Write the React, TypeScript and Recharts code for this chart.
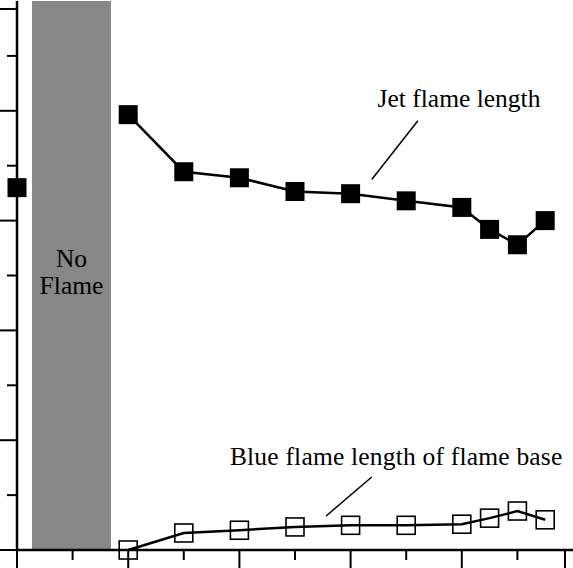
import React from 'react';
import {
  ComposedChart,
  Line,
  XAxis,
  YAxis,
  ReferenceArea,
  ReferenceLine,
  ReferenceDot,
} from 'recharts';

const SERIF = '"Liberation Serif", "Times New Roman", Times, serif';

// x positions of the measurements (axis units, labels are cropped off)
const JET_X = [2, 3, 4, 5, 6, 7, 8, 8.5, 9, 9.5];
const JET_Y = [7.93, 6.89, 6.78, 6.53, 6.49, 6.36, 6.24, 5.84, 5.56, 6.0];
const BLUE_X = [2, 3, 4, 5, 6, 7, 8, 8.5, 9, 9.5];
const BLUE_Y = [0.0, 0.31, 0.36, 0.42, 0.45, 0.45, 0.47, 0.58, 0.71, 0.55];
// single reference point on the axis, not joined to the line
const START_X = [0];
const START_Y = [6.6];

const NO_FLAME_FROM = 0.27;
const NO_FLAME_TO = 1.69;

const X_TICKS = [0, 1, 2, 3, 4, 5, 6, 7, 8, 9, 10];
const Y_TICKS = [0, 1, 2, 3, 4, 5, 6, 7, 8, 9, 10];

const jetData = JET_X.map((x, i) => ({ x, y: JET_Y[i] }));
const blueData = BLUE_X.map((x, i) => ({ x, y: BLUE_Y[i] }));
const startData = START_X.map((x, i) => ({ x, y: START_Y[i] }));

const FilledSquare = (p: any) => {
  if (p.cx == null || p.cy == null) return <g key={p.index} />;
  return <rect key={p.index} x={p.cx - 9.5} y={p.cy - 9.5} width={19} height={19} fill="#000" />;
};

const OpenSquare = (p: any) => {
  if (p.cx == null || p.cy == null) return <g key={p.index} />;
  return (
    <rect
      key={p.index}
      x={p.cx - 9}
      y={p.cy - 9}
      width={18}
      height={18}
      fill="none"
      stroke="#000"
      strokeWidth={1.6}
    />
  );
};

const YTick = (p: any) => {
  const len = p.payload.value % 2 === 0 ? 18 : 10;
  return <line x1={p.x} y1={p.y} x2={p.x - len} y2={p.y} stroke="#000" strokeWidth={2} />;
};

const XTick = (p: any) => {
  const len = p.payload.value % 2 === 0 ? 18 : 10;
  return <line x1={p.x} y1={p.y} x2={p.x} y2={p.y + len} stroke="#000" strokeWidth={2} />;
};

const textLabel = (text: string, spacing = 0) => (p: any) => (
  <text
    x={p.viewBox.x}
    y={p.viewBox.y}
    textAnchor="middle"
    fill="#000"
    style={{ fontFamily: SERIF, fontSize: 25.5, letterSpacing: spacing }}
  >
    {text}
  </text>
);

export default function App() {
  return (
    <div style={{ width: 573, height: 568, fontFamily: SERIF }}>
      <style>{'body{margin:0;}'}</style>
      <ComposedChart width={573} height={568} margin={{ top: 1, right: 0, bottom: 0, left: 0 }}>
        <XAxis
          dataKey="x"
          type="number"
          domain={[0, 10]}
          ticks={X_TICKS}
          height={18}
          tickSize={0}
          tickMargin={0}
          tickLine={false}
          tick={<XTick />}
          axisLine={{ stroke: '#000', strokeWidth: 2.5 }}
        />
        <XAxis
          xAxisId="top"
          orientation="top"
          type="number"
          domain={[0, 10]}
          height={0}
          tick={false}
          tickLine={false}
          axisLine={{ stroke: '#000', strokeWidth: 2 }}
        />
        <YAxis
          type="number"
          domain={[0, 10]}
          ticks={Y_TICKS}
          width={17}
          tickSize={0}
          tickMargin={0}
          tickLine={false}
          tick={<YTick />}
          axisLine={{ stroke: '#000', strokeWidth: 2.5 }}
        />
        <YAxis
          yAxisId="right"
          orientation="right"
          type="number"
          domain={[0, 10]}
          width={0}
          tick={false}
          tickLine={false}
          axisLine={{ stroke: '#000', strokeWidth: 2.5 }}
        />

        <ReferenceArea x1={NO_FLAME_FROM} x2={NO_FLAME_TO} fill="#878787" fillOpacity={1} stroke="none" />

        <ReferenceLine
          segment={[{ x: 7.21, y: 7.82 }, { x: 6.38, y: 6.75 }]}
          stroke="#000"
          strokeWidth={1.5}
        />
        <ReferenceLine
          segment={[{ x: 6.38, y: 1.33 }, { x: 5.56, y: 0.62 }]}
          stroke="#000"
          strokeWidth={1.5}
        />

        <Line
          data={blueData}
          dataKey="y"
          type="linear"
          stroke="#000"
          strokeWidth={2.5}
          dot={OpenSquare}
          activeDot={false}
          isAnimationActive={false}
        />
        <Line
          data={jetData}
          dataKey="y"
          type="linear"
          stroke="#000"
          strokeWidth={2.5}
          dot={FilledSquare}
          activeDot={false}
          isAnimationActive={false}
        />
        <Line
          data={startData}
          dataKey="y"
          stroke="none"
          dot={FilledSquare}
          activeDot={false}
          isAnimationActive={false}
        />

        <ReferenceDot x={7.95} y={8.07} r={0} fill="none" stroke="none" label={textLabel('Jet flame length')} />
        <ReferenceDot
          x={6.82}
          y={1.545}
          r={0}
          fill="none"
          stroke="none"
          label={textLabel('Blue flame length of flame base', 0.2)}
        />
        <ReferenceDot x={0.98} y={5.16} r={0} fill="none" stroke="none" label={textLabel('No')} />
        <ReferenceDot x={0.98} y={4.67} r={0} fill="none" stroke="none" label={textLabel('Flame')} />
      </ComposedChart>
    </div>
  );
}
